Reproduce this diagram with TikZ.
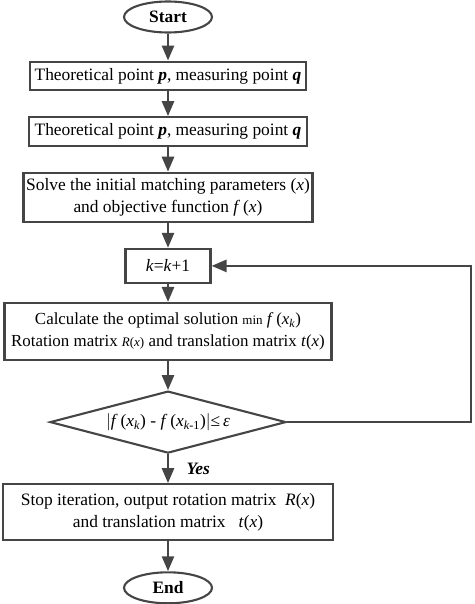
\documentclass[tikz,border=0pt]{standalone}
\usepackage{fontspec}
\setmainfont{Liberation Serif}
\usepackage{xcolor}
\usetikzlibrary{shapes.geometric, arrows.meta, positioning}
\definecolor{lineg}{gray}{0.27}
\newcommand{\smallfont}{\fontsize{13pt}{16pt}\selectfont}

\begin{document}
\begin{tikzpicture}[
			node distance=25pt,
			every node/.style={font=\fontsize{17.4pt}{22pt}\selectfont},
			terminal/.style={ellipse, draw=lineg, line width=2.1pt, minimum width=88pt, minimum height=31pt, inner sep=0pt, font=\fontsize{17.4pt}{22pt}\selectfont\bfseries},
			process/.style={rectangle, draw=lineg, line width=2.1pt, align=center, inner sep=0pt},
			decision/.style={diamond, draw=lineg, line width=2.1pt, inner sep=0pt, aspect=3.7, minimum width=236pt, minimum height=62pt},
			arrow/.style={-{Triangle[width=12pt,length=15pt]}, line width=2.6pt, draw=lineg},
			]
			\useasboundingbox (0,0) rectangle (474pt,-604pt);
			
			% Nodes
			\node (start) [terminal] at (168pt,-17pt) {Start};
			\node (input) [process, below=27pt of start, minimum width=276pt, minimum height=28.5pt] {Theoretical point \textbf{\textit{p}}, measuring point \textbf{\textit{q}}};
			\node (input2) [process, below=of input, minimum width=278pt, minimum height=28.5pt] {Theoretical point \textbf{\textit{p}}, measuring point \textbf{\textit{q}}};
			\node (init) [process, below=of input2, minimum width=289pt, minimum height=49pt] {Solve the initial matching parameters (\textit{x})\\and objective function \textit{f}\,(\textit{x})};
			\node (iter) [process, below=of init, minimum width=85pt, minimum height=34pt] {\textit{k}=\textit{k}+1};
			\node (optim) [process, below=18pt of iter, minimum width=327pt, minimum height=57pt, font=\fontsize{16.9pt}{22pt}\selectfont] {Calculate the optimal solution {\smallfont min} \textit{f}\,(\textit{x}\textsubscript{\textit{k}})\\Rotation matrix {\smallfont\textit{R}(\textit{x})} and translation matrix \textit{t}(\textit{x})};
			\node (check) [decision, below=29pt of optim] {$\big|$\textit{f}\,(\textit{x}\textsubscript{\textit{k}}) - \textit{f}\,(\textit{x}\textsubscript{\textit{k}-1})$\big|$≤\,\textit{ε}};
			\node (stop) [process, below=29pt of check, minimum width=330pt, minimum height=56pt] {Stop iteration, output rotation matrix \ \textit{R}(\textit{x})\\and translation matrix \ \ \textit{t}(\textit{x})};
			\node (end) [terminal, below=30pt of stop] {End};
			\coordinate (back) at (471pt,0);
			
			% Arrows
			\draw[arrow] (start) -- (input);
			\draw[arrow] (input) -- (input2);
			\draw[arrow] (input2) -- (init);
			\draw[arrow] (init) -- (iter);
			\draw[arrow] (iter) -- (optim);
			\draw[arrow] (optim) -- (check);
			\draw[arrow] (check) -- node[midway, right=14pt, font=\fontsize{17.4pt}{22pt}\selectfont\bfseries\itshape] {Yes} (stop);
			\draw[arrow] (stop) -- (end);
			\draw[arrow] (check.east) -- (check.east -| back) |- (iter.east);
		\end{tikzpicture}
\end{document}
